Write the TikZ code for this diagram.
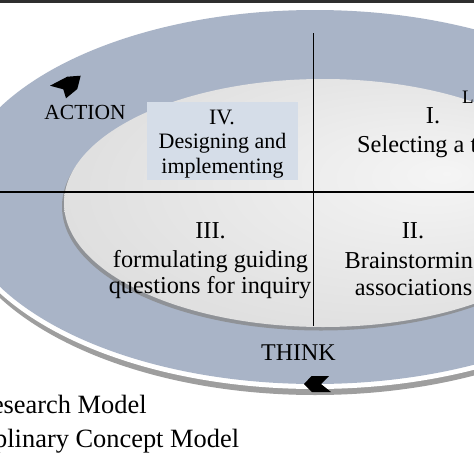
\documentclass[tikz,border=0pt]{standalone}
\usepackage{fontspec}
\setmainfont{Liberation Serif}
\definecolor{ringblue}{RGB}{169,180,199}
\definecolor{rimshadow}{RGB}{158,158,158}
\definecolor{innershadow}{RGB}{135,135,135}
\definecolor{boxblue}{RGB}{213,221,232}
\definecolor{topband}{RGB}{46,46,46}
\pgfdeclareradialshading{innersh}{\pgfpoint{12bp}{6bp}}{%
  color(0bp)=(white!96!black);
  color(28bp)=(white!88!black);
  color(50bp)=(white!83!black)}
\tikzset{
  lbl/.style={inner sep=0pt, anchor=base},
  quadtext/.style={lbl, font=\fontsize{24.3}{28}\selectfont},
  quadleft/.style={quadtext, anchor=base west},
  ivtext/.style={lbl, font=\fontsize{22}{25}\selectfont},
  ringtext/.style={lbl, font=\fontsize{23}{26}\selectfont},
  captext/.style={inner sep=0pt, anchor=base west, font=\fontsize{26.4}{30}\selectfont},
  divline/.style={draw=black, line width=1.2pt},
  ivbox/.style={fill=boxblue, inner sep=0pt, minimum width=151pt, minimum height=78pt},
  chevron/.style={fill=black}
}
\begin{document}
\begin{tikzpicture}[x=1pt,y=-1pt]
\useasboundingbox (0,0) rectangle (474,474);
\clip (0,0) rectangle (474,474);
\fill[white] (0,0) rectangle (474,474);
\fill[topband] (0,0) rectangle (474,2.5);
% outer ring
\fill[rimshadow] (315,200.5) ellipse [x radius=364pt, y radius=194.5pt];
\fill[white] (315,197) ellipse [x radius=364pt, y radius=192pt];
\fill[ringblue] (315,197) ellipse [x radius=359pt, y radius=187pt];
% inner ellipse
\fill[innershadow, opacity=0.75] (321,206.5) ellipse [x radius=259pt, y radius=124pt];
\shade[shading=innersh] (323,203) ellipse [x radius=259pt, y radius=124pt];
% box IV
\node[ivbox] (ivbox) at (222.5,141) {};
% dividing lines
\coordinate (hl) at (0,192);
\coordinate (hr) at (474,192);
\coordinate (vt) at (313.5,33);
\coordinate (vb) at (313.5,326);
\draw[divline] (hl) -- (hr);
\draw[divline] (vt) -- (vb);
% direction chevrons
\fill[chevron] (80.7,75.7) -- (67.3,76.7) -- (50,85.7) -- (63.3,89.3) -- (66,98.3) -- (77.3,89) -- cycle;
\fill[chevron] (304,384) -- (311.5,376) -- (329,376) -- (321,384) -- (331,392) -- (312,392) -- cycle;
% ring labels
\node[ringtext, font=\fontsize{21.5}{25}\selectfont] (action) at (85,119) {ACTION};
\node[ringtext, font=\fontsize{24}{27}\selectfont] (think) at (298.5,360) {THINK};
\node[lbl, anchor=base west, font=\fontsize{19}{22}\selectfont] (learn) at (462,103) {L};
% quadrant IV
\node[ivtext] (ivnum) at (222,124) {IV.};
\node[ivtext] (ivl1) at (222.5,148) {Designing and};
\node[ivtext] (ivl2) at (222.5,173) {implementing};
% quadrant I
\node[quadtext] (inum) at (433,123) {I.};
\node[quadleft] (il1) at (357,152) {Selecting a t};
% quadrant III
\node[quadtext] (iiinum) at (210.5,238) {III.};
\node[quadtext] (iiil1) at (210.5,267) {formulating guiding};
\node[quadtext] (iiil2) at (210,293) {questions for inquiry};
% quadrant II
\node[quadtext] (iinum) at (413,238) {II.};
\node[quadleft] (iil1) at (344.5,268) {Brainstormin};
\node[quadtext] (iil2) at (413.5,295) {associations};
% captions
\node[captext] (cap1) at (-8.2,413) {esearch Model};
\node[captext] (cap2) at (-6,447) {plinary Concept Model};
\end{tikzpicture}
\end{document}
